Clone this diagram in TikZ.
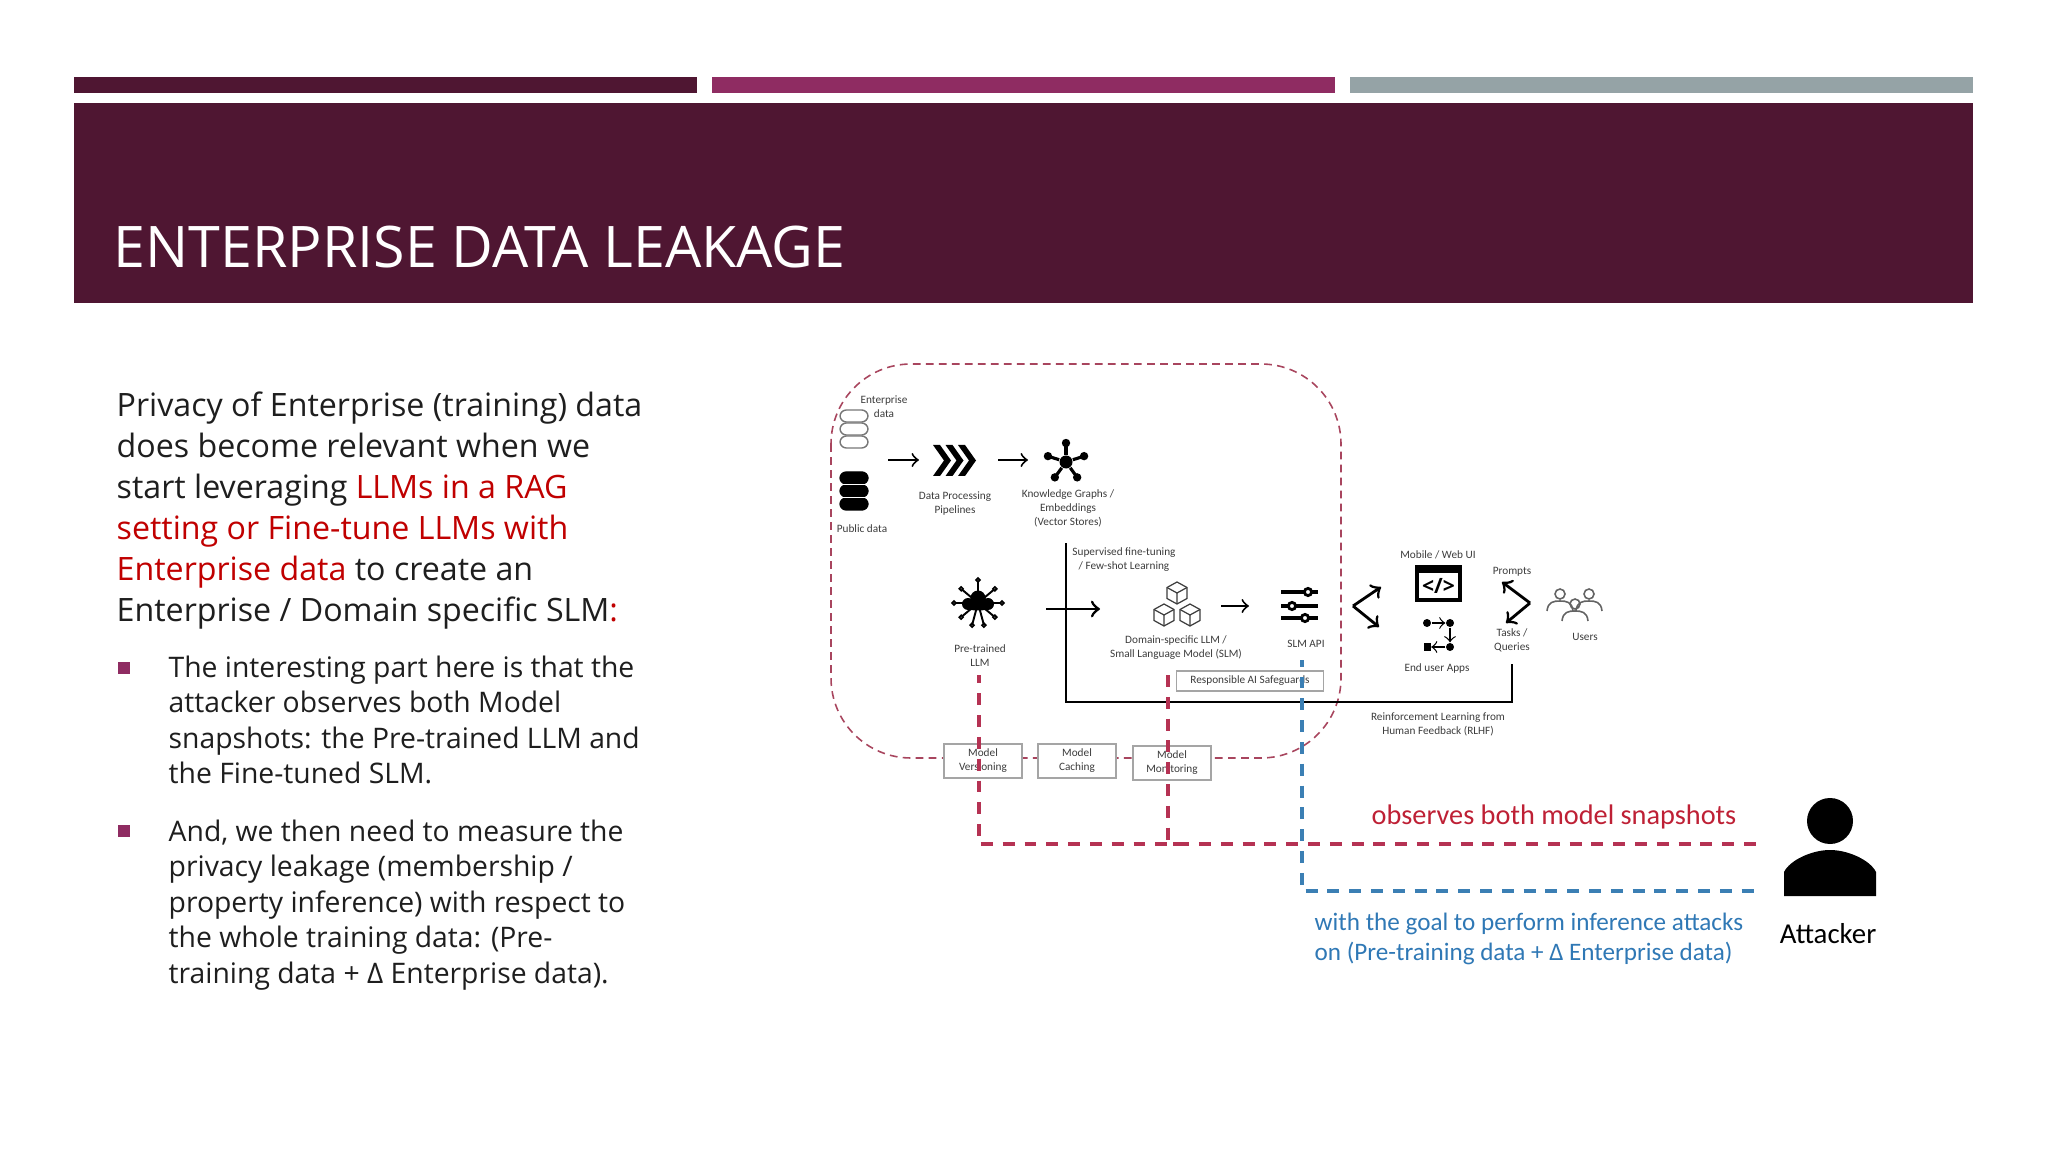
\documentclass[tikz,border=0pt]{standalone}
\usepackage{fontspec}
\setmainfont{Open Sans}
\newfontfamily\calibri{Carlito}
\definecolor{plum}{HTML}{4F1632}
\definecolor{magenta}{HTML}{8F2C62}
\definecolor{slate}{HTML}{95A3A6}
\definecolor{textdark}{HTML}{1E1E1E}
\definecolor{hotred}{HTML}{C00000}
\definecolor{linered}{HTML}{B53253}
\definecolor{lineblue}{HTML}{3B7FB4}
\definecolor{wordred}{HTML}{BE2035}
\definecolor{wordblue}{HTML}{2F78B5}
\definecolor{boxline}{HTML}{A5A5A5}
\definecolor{tinytext}{HTML}{3C3C3C}
\newcommand{\DBStack}[4]{
    \foreach \dy in {-13,0,13} {
        \draw[#3, fill=#4, line width=0.4pt, rounded corners=1.8pt] (#1-14,#2+\dy-6) rectangle (#1+14,#2+\dy+6);
    }
}
\newcommand{\Cube}[2]{
    \draw[line width=0.35pt, draw=tinytext] (#1,#2-11) -- (#1+10,#2-5.5) -- (#1+10,#2+5.5) -- (#1,#2+11) -- (#1-10,#2+5.5) -- (#1-10,#2-5.5) -- cycle;
    \draw[line width=0.35pt, draw=tinytext] (#1-10,#2-5.5) -- (#1,#2) -- (#1+10,#2-5.5) (#1,#2) -- (#1,#2+11);
}
\newcommand{\Person}[2]{
    \draw[line width=0.45pt, draw=tinytext!80] (#1,#2) circle (5);
    \draw[line width=0.45pt, draw=tinytext!80] (#1-13,#2+17) .. controls (#1-12,#2+8) and (#1-7,#2+7) .. (#1,#2+7) .. controls (#1+7,#2+7) and (#1+12,#2+8) .. (#1+13,#2+17);
}
\begin{document}
\begin{tikzpicture}
    [
        x=0.01cm, y=-0.01cm,
        band/.style = {fill=#1, draw=none},
        para/.style = {anchor=north west, inner sep=0pt, align=left, text=textdark, font=\fontsize{9.15}{11.68}\selectfont},
        subpara/.style = {anchor=north west, inner sep=0pt, align=left, text=textdark, font=\fontsize{8.05}{10.12}\selectfont},
        bullet/.style = {draw=none, fill=magenta, shape=rectangle, minimum width=0.11cm, minimum height=0.11cm, inner sep=0pt},
        tiny/.style = {inner sep=0pt, align=center, text=tinytext, font=\calibri\fontsize{3.2}{4.0}\selectfont},
        modelbox/.style = {draw=boxline, fill=white, shape=rectangle, line width=0.4pt, minimum width=0.78cm, minimum height=0.34cm, inner sep=0pt, align=center, text=tinytext, font=\calibri\fontsize{3.2}{4.0}\selectfont},
        flow/.style = {->, line width=0.55pt, black},
        thickflow/.style = {line width=0.7pt, black},
        redpath/.style = {draw=linered, line width=0.9pt, dash pattern=on 3.4pt off 2.8pt},
        bluepath/.style = {draw=lineblue, line width=0.9pt, dash pattern=on 3.4pt off 2.8pt},
    ]

    \useasboundingbox (0,0) rectangle (2048,1152);

    % title banner
    \fill[band=plum] (74,77) rectangle (697,93);
    \fill[band=magenta] (712,77) rectangle (1335,93);
    \fill[band=slate] (1350,77) rectangle (1973,93);
    \fill[band=plum] (74,103) rectangle (1973,303);
    \node[anchor=base west, inner sep=0pt, text=white, font=\fontsize{16.3}{20}\selectfont] (title) at (113,268) {ENTERPRISE DATA LEAKAGE};

    % left text
    \node[para] (intro) at (116,391) {Privacy of Enterprise (training) data\\does become relevant when we\\start leveraging \textcolor{hotred}{LLMs in a RAG}\\\textcolor{hotred}{setting or Fine-tune LLMs with}\\\textcolor{hotred}{Enterprise data} to create an\\Enterprise / Domain specific SLM\textcolor{hotred}{:}};
    \node[bullet] (b1) at (124,668) {};
    \node[subpara] (point1) at (168,655) {The interesting part here is that the\\attacker observes both Model\\snapshots: the Pre-trained LLM and\\the Fine-tuned SLM.};
    \node[bullet] (b2) at (124,831) {};
    \node[subpara] (point2) at (168,819) {And, we then need to measure the\\privacy leakage (membership /\\property inference) with respect to\\the whole training data: (Pre-\\training data + Δ Enterprise data).};

    % enterprise boundary
    \draw[draw=linered!75!gray, line width=0.45pt, dash pattern=on 2.2pt off 1.5pt, rounded corners=0.8cm] (831,364) rectangle (1341,758);

    % data row
    \DBStack{854}{429}{tinytext!70}{white}
    \DBStack{854}{491}{black}{black}
    \foreach \dy in {484.5,497.5} {
        \draw[white, line width=0.5pt] (842,\dy) -- (866,\dy);
    }
    \node[tiny] (entdata) at (884,407) {Enterprise\\data};
    \node[tiny] (pubdata) at (862,529) {Public data};

    \coordinate (dbout) at (888,460);
    \coordinate (pipein) at (919,460);
    \draw[flow] (dbout) -- (pipein);

    \foreach \dx in {0,12.5,25} {
        \fill[black] (933+\dx,445) -- (940+\dx,445) -- (951+\dx,460.5) -- (940+\dx,476) -- (933+\dx,476) -- (944+\dx,460.5) -- cycle;
    }
    \node[tiny] (pipes) at (955,504) {Data Processing\\Pipelines};

    \coordinate (pipeout) at (998,460);
    \coordinate (graphin) at (1028,460);
    \draw[flow] (pipeout) -- (graphin);

    \node[fill=black, shape=circle, minimum size=0.13cm, inner sep=0pt] (hub) at (1066,462) {};
    \foreach \ang in {90,18,-54,-126,162} {
        \fill[black] (hub) ++(\ang:-19) circle (4.2);
        \draw[black, line width=0.9pt] (hub) -- ++(\ang:-19);
    }
    \node[tiny] (graphs) at (1068,508) {Knowledge Graphs /\\Embeddings\\(Vector Stores)};

    % model row
    \node[tiny] (supervised) at (1124,560) {Supervised fine-tuning\\/ Few-shot Learning};
    \fill[black] (978,598) circle (7.5) (968,604) circle (6) (988,604) circle (6) (978,606) ellipse (15 and 4.5);
    \foreach \ang/\rad in {0/24,40/22,75/23,105/23,140/22,180/24,220/22,270/23,320/22} {
        \draw[black, line width=0.55pt] (978,603) -- ++(\ang:\rad);
        \draw[black, fill=white, line width=0.5pt] (978,603) ++(\ang:\rad) circle (1.8);
    }
    \node[tiny] (pretrained) at (980,656) {Pre-trained\\LLM};

    \coordinate (llmout) at (1046,609);
    \coordinate (slmin) at (1100,609);
    \draw[flow, line width=0.8pt] (llmout) -- (slmin);

    \Cube{1177}{593}
    \Cube{1164}{615}
    \Cube{1190}{615}
    \node[tiny] (domain) at (1176,648) {Domain-specific LLM /\\Small Language Model (SLM)};

    \coordinate (slmout) at (1221,606);
    \coordinate (apiin) at (1249,606);
    \draw[flow] (slmout) -- (apiin);

    \foreach \sy/\kx in {592/1308,606/1292,618/1305} {
        \draw[black, line width=0.9pt] (1281,\sy) -- (1318,\sy);
        \draw[black, fill=white, line width=0.8pt] (\kx,\sy) circle (3.6);
    }
    \node[tiny] (slmapi) at (1306,644) {SLM API};

    % apps
    \coordinate (fork) at (1353,606);
    \coordinate (forkup) at (1381,587);
    \coordinate (forkdown) at (1379,627);
    \draw[flow, line width=0.8pt] (fork) -- (forkup);
    \draw[flow, line width=0.8pt] (fork) -- (forkdown);

    \node[tiny] (webui) at (1438,555) {Mobile / Web UI};
    \draw[black, line width=1pt] (1417,567) rectangle (1460,600);
    \fill[black] (1417,567) rectangle (1460,573);
    \node[inner sep=0pt, font=\fontsize{6}{6}\selectfont\bfseries] (code) at (1438.5,586) {</>};

    \node[fill=black, shape=circle, minimum size=0.08cm, inner sep=0pt] (step1) at (1427,623) {};
    \node[fill=black, shape=circle, minimum size=0.08cm, inner sep=0pt] (step2) at (1450,623) {};
    \node[fill=black, shape=circle, minimum size=0.08cm, inner sep=0pt] (step3) at (1450,647) {};
    \node[fill=black, shape=rectangle, minimum size=0.07cm, inner sep=0pt] (step4) at (1427,647) {};
    \draw[->, line width=0.35pt] (step1) -- (step2);
    \draw[->, line width=0.35pt] (step2) -- (step3);
    \draw[->, line width=0.35pt] (step3) -- (step4);
    \node[tiny] (enduser) at (1437,668) {End user Apps};

    \node[tiny] (prompts) at (1512,572) {Prompts};
    \node[tiny] (tasks) at (1512,640) {Tasks /\\Queries};
    \coordinate (back) at (1530,603);
    \coordinate (backup) at (1502,582);
    \coordinate (backdown) at (1506,623);
    \draw[flow, line width=0.8pt] (back) -- (backup);
    \draw[flow, line width=0.8pt] (back) -- (backdown);

    \Person{1560}{594}
    \Person{1589}{594}
    \Person{1575}{604}
    \node[tiny] (users) at (1585,637) {Users};

    % feedback loop
    \coordinate (fbstart) at (1512,664);
    \coordinate (fbcorner) at (1512,702);
    \coordinate (fbleft) at (1066,702);
    \coordinate (fbend) at (1066,543);
    \draw[thickflow, line join=miter] (fbstart) -- (fbcorner) -- (fbleft) -- (fbend);
    \node[tiny] (rlhf) at (1438,724) {Reinforcement Learning from\\Human Feedback (RLHF)};

    \node[modelbox, minimum width=1.47cm, minimum height=0.2cm] (safeguards) at (1250,681) {Responsible AI Safeguards};
    \node[modelbox] (versioning) at (983,761) {Model\\Versioning};
    \node[modelbox] (caching) at (1077,761) {Model\\Caching};
    \node[modelbox] (monitoring) at (1172,763) {Model\\Monitoring};

    % attacker paths
    \coordinate (redA) at (979,675);
    \coordinate (redB) at (1168,675);
    \coordinate (redAc) at (979,844);
    \coordinate (redBc) at (1168,844);
    \coordinate (redEnd) at (1757,844);
    \coordinate (blueA) at (1302,660);
    \coordinate (blueC) at (1302,891);
    \coordinate (blueEnd) at (1755,891);
    \draw[redpath, dash phase=1pt] (redA) -- (redAc) -- (redEnd);
    \draw[redpath] (redB) -- (redBc) -- ++(15,0);
    \draw[bluepath, dash phase=1.5pt] (blueA) -- (blueC) -- (blueEnd);

    \node[anchor=west, inner sep=0pt, text=wordred, font=\calibri\fontsize{8.05}{9.5}\selectfont] (observes) at (1371,817) {observes both model snapshots};
    \node[anchor=north west, inner sep=0pt, align=left, text=wordblue, font=\calibri\fontsize{7.15}{8.7}\selectfont] (goal) at (1314,912) {with the goal to perform inference attacks\\on (Pre-training data + Δ Enterprise data)};

    \fill[black] (1830,821) circle (23);
    \fill[black] (1784,896) -- (1784,872) .. controls (1790,860) and (1812,850) .. (1830,850) .. controls (1848,850) and (1870,860) .. (1876,872) -- (1876,896) -- cycle;
    \node[inner sep=0pt, text=black, font=\calibri\fontsize{8.2}{9}\selectfont] (attacker) at (1828,934) {Attacker};

\end{tikzpicture}
\end{document}
